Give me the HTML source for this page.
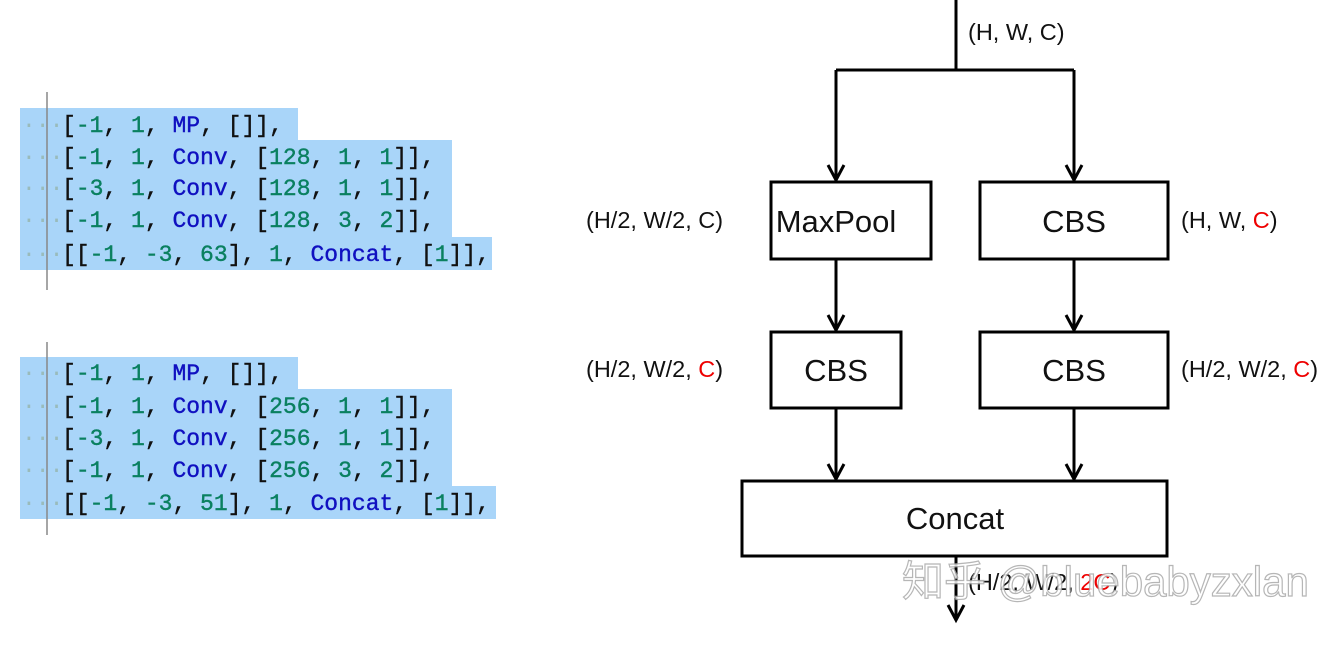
<!DOCTYPE html>
<html><head><style>
body{margin:0;background:#fff;width:1334px;height:642px;overflow:hidden}
</style></head><body>
<svg width="1334" height="642" xmlns="http://www.w3.org/2000/svg">
<g fill="#a9d5f9">
<path d="M20,108 H298 V140 H452 V237 H492 V270 H20 Z"/>
<path d="M20,357 H298 V389 H452 V486 H496 V519 H20 Z"/>
</g>
<line x1="47" y1="92" x2="47" y2="290" stroke="#888" stroke-width="1.5"/>
<line x1="47" y1="342" x2="47" y2="535" stroke="#888" stroke-width="1.5"/>
<g font-family="Liberation Mono,monospace" font-size="23" fill="#111" stroke-width="0.4">
<text x="22" y="132" fill="#9bb">···</text><text x="22" y="164" fill="#9bb">···</text><text x="22" y="195" fill="#9bb">···</text><text x="22" y="227" fill="#9bb">···</text><text x="22" y="261" fill="#9bb">···</text>
<text x="62" y="132" stroke="#111">[<tspan fill="#0a8060" stroke="#0a8060">-1</tspan>, <tspan fill="#0a8060" stroke="#0a8060">1</tspan>, <tspan fill="#1010c0" stroke="#1010c0">MP</tspan>, []],</text>
<text x="62" y="164" stroke="#111">[<tspan fill="#0a8060" stroke="#0a8060">-1</tspan>, <tspan fill="#0a8060" stroke="#0a8060">1</tspan>, <tspan fill="#1010c0" stroke="#1010c0">Conv</tspan>, [<tspan fill="#0a8060" stroke="#0a8060">128</tspan>, <tspan fill="#0a8060" stroke="#0a8060">1</tspan>, <tspan fill="#0a8060" stroke="#0a8060">1</tspan>]],</text>
<text x="62" y="195" stroke="#111">[<tspan fill="#0a8060" stroke="#0a8060">-3</tspan>, <tspan fill="#0a8060" stroke="#0a8060">1</tspan>, <tspan fill="#1010c0" stroke="#1010c0">Conv</tspan>, [<tspan fill="#0a8060" stroke="#0a8060">128</tspan>, <tspan fill="#0a8060" stroke="#0a8060">1</tspan>, <tspan fill="#0a8060" stroke="#0a8060">1</tspan>]],</text>
<text x="62" y="227" stroke="#111">[<tspan fill="#0a8060" stroke="#0a8060">-1</tspan>, <tspan fill="#0a8060" stroke="#0a8060">1</tspan>, <tspan fill="#1010c0" stroke="#1010c0">Conv</tspan>, [<tspan fill="#0a8060" stroke="#0a8060">128</tspan>, <tspan fill="#0a8060" stroke="#0a8060">3</tspan>, <tspan fill="#0a8060" stroke="#0a8060">2</tspan>]],</text>
<text x="62" y="261" stroke="#111">[[<tspan fill="#0a8060" stroke="#0a8060">-1</tspan>, <tspan fill="#0a8060" stroke="#0a8060">-3</tspan>, <tspan fill="#0a8060" stroke="#0a8060">63</tspan>], <tspan fill="#0a8060" stroke="#0a8060">1</tspan>, <tspan fill="#1010c0" stroke="#1010c0">Concat</tspan>, [<tspan fill="#0a8060" stroke="#0a8060">1</tspan>]],</text>
<text x="22" y="380" fill="#9bb">···</text><text x="22" y="413" fill="#9bb">···</text><text x="22" y="445" fill="#9bb">···</text><text x="22" y="477" fill="#9bb">···</text><text x="22" y="510" fill="#9bb">···</text>
<text x="62" y="380" stroke="#111">[<tspan fill="#0a8060" stroke="#0a8060">-1</tspan>, <tspan fill="#0a8060" stroke="#0a8060">1</tspan>, <tspan fill="#1010c0" stroke="#1010c0">MP</tspan>, []],</text>
<text x="62" y="413" stroke="#111">[<tspan fill="#0a8060" stroke="#0a8060">-1</tspan>, <tspan fill="#0a8060" stroke="#0a8060">1</tspan>, <tspan fill="#1010c0" stroke="#1010c0">Conv</tspan>, [<tspan fill="#0a8060" stroke="#0a8060">256</tspan>, <tspan fill="#0a8060" stroke="#0a8060">1</tspan>, <tspan fill="#0a8060" stroke="#0a8060">1</tspan>]],</text>
<text x="62" y="445" stroke="#111">[<tspan fill="#0a8060" stroke="#0a8060">-3</tspan>, <tspan fill="#0a8060" stroke="#0a8060">1</tspan>, <tspan fill="#1010c0" stroke="#1010c0">Conv</tspan>, [<tspan fill="#0a8060" stroke="#0a8060">256</tspan>, <tspan fill="#0a8060" stroke="#0a8060">1</tspan>, <tspan fill="#0a8060" stroke="#0a8060">1</tspan>]],</text>
<text x="62" y="477" stroke="#111">[<tspan fill="#0a8060" stroke="#0a8060">-1</tspan>, <tspan fill="#0a8060" stroke="#0a8060">1</tspan>, <tspan fill="#1010c0" stroke="#1010c0">Conv</tspan>, [<tspan fill="#0a8060" stroke="#0a8060">256</tspan>, <tspan fill="#0a8060" stroke="#0a8060">3</tspan>, <tspan fill="#0a8060" stroke="#0a8060">2</tspan>]],</text>
<text x="62" y="510" stroke="#111">[[<tspan fill="#0a8060" stroke="#0a8060">-1</tspan>, <tspan fill="#0a8060" stroke="#0a8060">-3</tspan>, <tspan fill="#0a8060" stroke="#0a8060">51</tspan>], <tspan fill="#0a8060" stroke="#0a8060">1</tspan>, <tspan fill="#1010c0" stroke="#1010c0">Concat</tspan>, [<tspan fill="#0a8060" stroke="#0a8060">1</tspan>]],</text>
</g>
<g stroke="#000" stroke-width="3" fill="none">
<path d="M956,0 V70 M836,70 H1074 M836,70 V180 M1074,70 V180 M836,259 V330 M1074,259 V330 M836,408 V479 M1074,408 V479 M956,556 V620"/>
<path d="M828,165 L836,180 L844,165 M1066,165 L1074,180 L1082,165 M828,315 L836,330 L844,315 M1066,315 L1074,330 L1082,315 M828,464 L836,479 L844,464 M1066,464 L1074,479 L1082,464 M948,605 L956,620 L964,605"/>
<rect x="771" y="182" width="160" height="77"/>
<rect x="980" y="182" width="188" height="77"/>
<rect x="771" y="332" width="130" height="76"/>
<rect x="980" y="332" width="188" height="76"/>
<rect x="742" y="481" width="425" height="75"/>
</g>
<g font-family="Liberation Sans,sans-serif" font-size="31" text-anchor="middle" fill="#111">
<text x="836" y="232">MaxPool</text>
<text x="1074" y="232">CBS</text>
<text x="836" y="381">CBS</text>
<text x="1074" y="381">CBS</text>
<text x="955" y="529">Concat</text>
</g>
<g font-family="Liberation Sans,sans-serif" font-size="23.5" fill="#111">
<text x="968" y="40">(H, W, C)</text>
<text x="586" y="228">(H/2, W/2, C)</text>
<text x="1181" y="228">(H, W, <tspan fill="#e00">C</tspan>)</text>
<text x="586" y="377">(H/2, W/2, <tspan fill="#e00">C</tspan>)</text>
<text x="1181" y="377">(H/2, W/2, <tspan fill="#e00">C</tspan>)</text>
<text x="968" y="590">(H/2, W/2, <tspan fill="#e00">2C</tspan>)</text>
</g>
<text x="902" y="596" font-family="Liberation Sans,Noto Sans CJK SC,sans-serif" font-size="42" fill="#fff" stroke="#aaa" stroke-width="1.2" opacity="0.85">知乎 @bluebabyzxlan</text>
</svg>
</body></html>
